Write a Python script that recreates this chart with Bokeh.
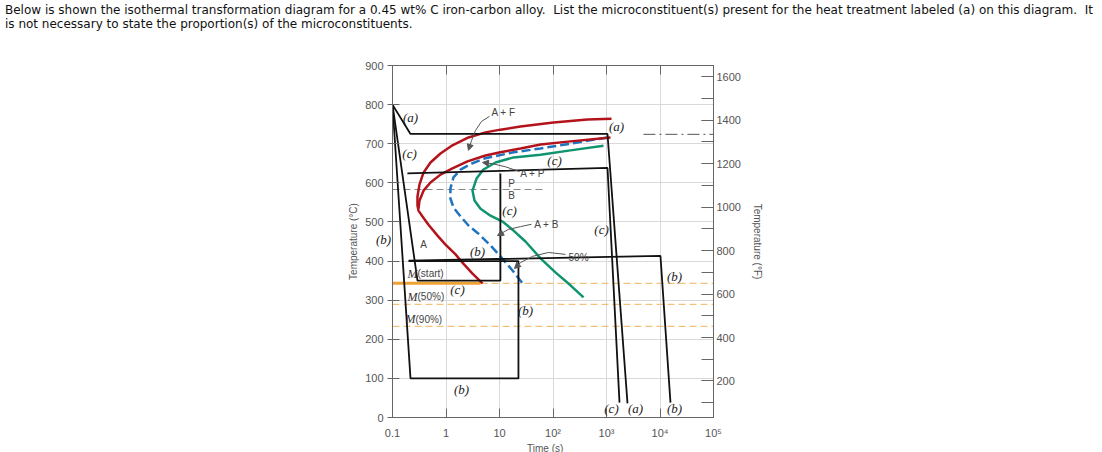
from bokeh.plotting import figure
from bokeh.models import (Range1d, LinearAxis, LogAxis, FixedTicker, Label, Div,
                          Arrow, NormalHead)
from bokeh.layouts import column
from bokeh.embed import file_html
from bokeh.resources import INLINE

# ---------------- data ----------------
x_ticks = [0.1, 1, 10, 100, 1000, 10000, 100000]
x_tick_labels = ["0.1", "1", "10", "10²", "10³", "10⁴", "10⁵"]
c_ticks = [0, 100, 200, 300, 400, 500, 600, 700, 800, 900]
f_ticks = [200, 400, 600, 800, 1000, 1200, 1400, 1600]
f_minor = [100, 200, 300, 400, 500, 600, 700, 800, 900, 1000, 1100, 1200, 1300, 1400, 1500, 1600]

# transformation curves (time s, temperature C)
ferrite_start_t = [1240, 441, 102, 24.7, 10.4, 5.47, 2.63, 1.32, 0.789, 0.513, 0.380, 0.320, 0.293,
                   0.293, 0.306, 0.364, 0.471, 0.693, 0.979, 1.51, 2.03, 3.13, 4.81]
ferrite_start_T = [764, 762, 754, 744, 736, 729, 716, 696, 675, 652, 626, 596, 565,
                   542, 529, 514, 493, 465, 442, 417, 396, 368, 343]
pearlite_start_t = [1188, 212, 58.4, 24.7, 10.4, 5.47, 2.52, 1.32, 0.789, 0.513, 0.380, 0.320, 0.306]
pearlite_start_T = [716, 706, 698, 688, 678, 670, 655, 637, 621, 601, 580, 555, 534]
half_t = [1044, 212, 58.4, 18.3, 5.47, 2.87, 1.87, 1.38, 1.21, 1.21, 1.38, 1.87, 2.63, 4.05, 6.79, 10.4, 17.5, 26.9]
half_T = [716, 700, 688, 678, 663, 648, 634, 614, 586, 560, 537, 514, 491, 470, 440, 412, 376, 343]
end_t = [879, 212, 58.4, 18.3, 8.42, 5.02, 3.72, 3.13, 3.41, 4.42, 6.79, 11.4, 18.3, 30.6, 58.4, 111, 212, 372]
end_T = [695, 683, 672, 665, 652, 634, 611, 580, 555, 534, 516, 501, 478, 450, 407, 371, 338, 307]

# heat-treatment paths
path_a_t = [0.1, 0.217, 1044, 2470]
path_a_T = [800, 725, 725, 36]
path_c1_t = [0.1, 0.293, 10.4, 10.4]
path_c1_T = [800, 350, 350, 624]
path_c2_t = [0.19, 1044, 1750]
path_c2_T = [624, 638, 38]
path_b1_t = [0.1, 0.217, 22.6, 22.6, 0.2]
path_b1_T = [800, 100, 100, 400, 400]
path_b2_t = [0.2, 10200, 15700]
path_b2_T = [401, 413, 38]

# reference lines
eutectoid_t = [4900, 100000]
eutectoid_T = [724, 724]
pb_t = [0.1, 72]
pb_T = [583, 583]
ms_solid_t = [0.1, 4.42]
ms_dash_t = [4.42, 100000]
ms_T = [343, 343]
full_t = [0.1, 100000]
m50_T = [289, 289]
m90_T = [233, 233]

# leader lines: (points t, points T, arrow head t, T)
leaders = [
    ([6.50, 4.61, 3.56, 3.00], [770, 757, 734, 708], 2.63, 683),
    ([23.6, 12.9, 7.40], [629, 641, 649], 4.81, 652),
    ([39.6, 24.7, 14.7], [494, 488, 481], 9.18, 465),
    ([171, 82.4, 41.4, 24.7], [417, 422, 412, 396], 19.1, 381),
]

# labels
path_label_text = ["(a)", "(a)", "(a)", "(c)", "(c)", "(c)", "(c)", "(c)", "(c)",
                   "(b)", "(b)", "(b)", "(b)", "(b)"]
path_label_t = [0.217, 1538, 3484, 0.208, 107, 15.4, 1.64, 807, 1240,
                3.88, 30.6, 1.95, 18660, 18660]
path_label_T = [767, 744, 23, 675, 657, 529, 327, 481, 23,
                424, 274, 72, 360, 23]
region_text = ["A", "P", "B", "A + F", "A + P", "A + B", "50%"]
region_t = [0.380, 16.8, 16.8, 11.9, 41.4, 75.6, 300]
region_T = [442, 598, 568, 780, 624, 494, 409]
m_label_text = ["(start)", "(50%)", "(90%)"]
m_label_t = [0.191, 0.191, 0.175]
m_label_T = [368, 309, 251]

# ---------------- style ----------------
RED = "#b3141c"
BLUE = "#1f74c0"
GREEN = "#109470"
ORANGE = "#eea234"
ORANGE_L = "#f2c27c"
BLACK = "#111111"
GRAY = "#555555"
SANS = "Liberation Sans"
SERIF = "Liberation Serif"

head = Div(
    text=("Below is shown the isothermal transformation diagram for a 0.45 wt% C iron-carbon alloy.&nbsp; "
          "List the microconstituent(s) present for the heat treatment labeled (a) on this diagram.&nbsp; It<br>"
          "is not necessary to state the proportion(s) of the microconstituents."
          "<span style=\"position:absolute; left:376px; top:233px; z-index:50; "
          "font-family:'Liberation Serif'; font-style:italic; font-size:13px; color:#222;\">(b)</span>"
          "<span style=\"position:absolute; left:527px; top:443px; z-index:50; line-height:12px; "
          "font-family:'Liberation Sans'; font-size:10px; color:#555;\">Time (s)</span>"),
    width=1102, height=35, margin=(0, 0, 0, 0),
    styles={"font-family": "'DejaVu Sans'", "font-size": "12px",
            "line-height": "14px", "color": "#111", "padding": "3px 0 0 5px",
            "white-space": "nowrap", "overflow": "visible", "z-index": "50"})

p = figure(width=1102, height=417, x_axis_type="log",
           x_range=Range1d(0.1, 100000), y_range=Range1d(0, 900),
           output_backend="svg", toolbar_location=None,
           min_border_left=392, min_border_right=389, min_border_top=30, min_border_bottom=35,
           margin=(0, 0, 0, 0))
p.outline_line_color = "#666666"
p.background_fill_color = "white"
p.border_fill_color = "white"

p.xgrid.ticker = FixedTicker(ticks=x_ticks)
p.ygrid.ticker = FixedTicker(ticks=c_ticks)
p.grid.grid_line_color = "#d9d9d9"

xa = p.xaxis[0]
xa.ticker = FixedTicker(ticks=x_ticks, minor_ticks=[])
xa.major_label_overrides = {t: s for t, s in zip(x_ticks, x_tick_labels)}
xa.major_tick_in = 9
xa.major_tick_out = 0
xa.major_label_standoff = 9
xa.major_label_text_font = SANS
xa.major_label_text_font_size = "11px"
xa.major_label_text_color = GRAY
xa.axis_line_color = "#666666"
xa.major_tick_line_color = "#666666"

ya = p.yaxis[0]
ya.ticker = FixedTicker(ticks=c_ticks, minor_ticks=[])
ya.axis_label = "Temperature (°C)"
ya.major_tick_in = 7
ya.major_tick_out = 5
ya.major_label_standoff = 4
ya.axis_label_standoff = 3
ya.major_label_text_font = SANS
ya.major_label_text_font_size = "11px"
ya.major_label_text_color = GRAY
ya.axis_label_text_font = SANS
ya.axis_label_text_font_size = "10px"
ya.axis_label_text_font_style = "normal"
ya.axis_label_text_color = GRAY
ya.axis_line_color = "#666666"
ya.major_tick_line_color = "#666666"

top = LogAxis(ticker=FixedTicker(ticks=x_ticks, minor_ticks=[]),
              major_label_overrides={t: "" for t in x_ticks},
              major_tick_in=9, major_tick_out=0, major_label_standoff=0,
              axis_line_color="#666666", major_tick_line_color="#666666")
p.add_layout(top, "above")

p.extra_y_ranges = {"F": Range1d(32, 1652)}
ra = LinearAxis(y_range_name="F", ticker=FixedTicker(ticks=f_ticks, minor_ticks=f_minor),
                axis_label="Temperature (°F)")
ra.major_tick_in = 12
ra.major_tick_out = 0
ra.minor_tick_in = 12
ra.minor_tick_out = 0
ra.major_label_standoff = 3
ra.axis_label_standoff = 8
ra.major_label_text_font = SANS
ra.major_label_text_font_size = "11px"
ra.major_label_text_color = GRAY
ra.axis_label_text_font = SANS
ra.axis_label_text_font_size = "10px"
ra.axis_label_text_font_style = "normal"
ra.axis_label_text_color = GRAY
ra.axis_line_color = "#666666"
ra.major_tick_line_color = "#666666"
ra.minor_tick_line_color = "#666666"
p.add_layout(ra, "right")

# reference lines
p.line(eutectoid_t, eutectoid_T, line_color=GRAY, line_width=1, line_dash="12 4 2 4")
p.line(pb_t, pb_T, line_color="#888888", line_width=1.2, line_dash="7 4")
p.line(ms_dash_t, ms_T, line_color=ORANGE_L, line_width=1.3, line_dash="7 4")
p.line(full_t, m50_T, line_color=ORANGE_L, line_width=1.3, line_dash="7 4")
p.line(full_t, m90_T, line_color=ORANGE_L, line_width=1.3, line_dash="7 4")
p.line(ms_solid_t, ms_T, line_color=ORANGE, line_width=3)

# transformation curves
p.line(end_t, end_T, line_color=GREEN, line_width=2.5)
p.line(half_t, half_T, line_color=BLUE, line_width=2.5, line_dash="9 4")
p.line(pearlite_start_t, pearlite_start_T, line_color=RED, line_width=2.5)
p.line(ferrite_start_t, ferrite_start_T, line_color=RED, line_width=2.5)

# heat-treatment paths
for tt, TT in [(path_a_t, path_a_T), (path_c1_t, path_c1_T), (path_c2_t, path_c2_T),
               (path_b1_t, path_b1_T), (path_b2_t, path_b2_T)]:
    p.line(tt, TT, line_color=BLACK, line_width=1.8)

# leaders
for lt, lT, ht, hT in leaders:
    p.line(lt, lT, line_color=GRAY, line_width=1)
    p.add_layout(Arrow(end=NormalHead(size=6, fill_color=GRAY, line_color=GRAY),
                       x_start=lt[-1], y_start=lT[-1], x_end=ht, y_end=hT,
                       line_color=GRAY, line_width=1))

# labels
for s, t, T in zip(path_label_text, path_label_t, path_label_T):
    p.add_layout(Label(x=t, y=T, text=s, text_font=SERIF, text_font_style="italic",
                       text_font_size="13px", text_color="#222222",
                       text_align="center", text_baseline="middle"))
for s, t, T in zip(region_text, region_t, region_T):
    p.add_layout(Label(x=t, y=T, text=s, text_font=SANS, text_font_size="10px",
                       text_color="#444444", text_align="center", text_baseline="middle"))
for s, t, T in zip(m_label_text, m_label_t, m_label_T):
    p.add_layout(Label(x=t, y=T, text="M", text_font=SERIF, text_font_style="italic",
                       text_font_size="12px", text_color="#333333",
                       text_align="left", text_baseline="middle"))
    p.add_layout(Label(x=t, y=T, x_offset=10, text=s, text_font=SANS, text_font_size="10px",
                       text_color="#444444", text_align="left", text_baseline="middle"))

layout = column(head, p, spacing=0, margin=(0, 0, 0, 0))
open("out.html", "w").write(file_html(layout, INLINE))
